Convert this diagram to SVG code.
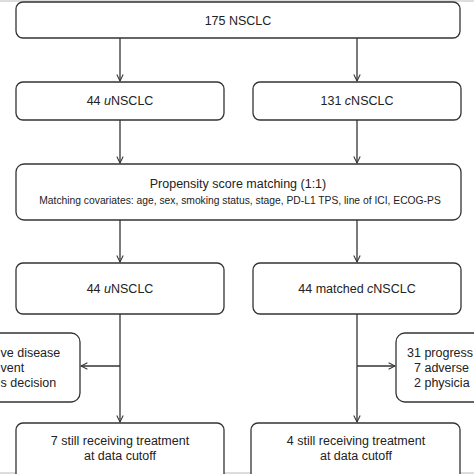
<svg xmlns="http://www.w3.org/2000/svg" width="474" height="474" viewBox="0 0 474 474">
<style>
.box{fill:#fff;stroke:#333;stroke-width:1.3}
.t{font-family:"Liberation Sans",Arial,sans-serif;font-size:12.5px;fill:#222;text-anchor:middle}
.s{font-size:10.3px}
.st{text-anchor:start}
.c{fill:none;stroke:#333;stroke-width:1.3}
</style>
<defs>
<marker id="ah" viewBox="0 0 10 10" refX="9" refY="5" markerWidth="8" markerHeight="8" markerUnits="userSpaceOnUse" orient="auto">
<path d="M1,1 L9,5 L1,9" fill="none" stroke="#333" stroke-width="1.3"/>
</marker>
</defs>
<rect width="474" height="474" fill="#fff"/>
<rect width="474" height="2" fill="#ddd"/>
<rect y="472" width="474" height="2" fill="#ddd"/>
<g id="connectors">
<line class="c" x1="120" y1="38" x2="120" y2="81" marker-end="url(#ah)"/>
<line class="c" x1="357" y1="38" x2="357" y2="81" marker-end="url(#ah)"/>
<line class="c" x1="120" y1="120" x2="120" y2="163" marker-end="url(#ah)"/>
<line class="c" x1="357" y1="120" x2="357" y2="163" marker-end="url(#ah)"/>
<line class="c" x1="120" y1="220" x2="120" y2="262" marker-end="url(#ah)"/>
<line class="c" x1="357" y1="220" x2="357" y2="262" marker-end="url(#ah)"/>
<line class="c" x1="120" y1="314" x2="120" y2="422" marker-end="url(#ah)"/>
<line class="c" x1="357" y1="314" x2="357" y2="422" marker-end="url(#ah)"/>
<line class="c" x1="120" y1="366" x2="81" y2="366" marker-end="url(#ah)"/>
<line class="c" x1="357" y1="366" x2="395" y2="366" marker-end="url(#ah)"/>
</g>
<g id="n_total">
<rect class="box" x="16" y="2" width="444" height="36" rx="7"/>
<text class="t" x="238" y="25">175 NSCLC</text>
</g>
<g id="n_u1">
<rect class="box" x="16" y="82" width="208" height="38" rx="7"/>
<text class="t" x="120" y="105">44 <tspan font-style="italic">u</tspan>NSCLC</text>
</g>
<g id="n_c1">
<rect class="box" x="253" y="82" width="208" height="38" rx="7"/>
<text class="t" x="357" y="105">131 <tspan font-style="italic">c</tspan>NSCLC</text>
</g>
<g id="n_psm">
<rect class="box" x="16" y="164" width="445" height="56" rx="8"/>
<text class="t" x="238" y="188">Propensity score matching (1:1)</text>
<text class="t s" x="240" y="204">Matching covariates: age, sex, smoking status, stage, PD-L1 TPS, line of ICI, ECOG-PS</text>
</g>
<g id="n_u2">
<rect class="box" x="16" y="263" width="208" height="51" rx="7"/>
<text class="t" x="120" y="293">44 <tspan font-style="italic">u</tspan>NSCLC</text>
</g>
<g id="n_c2">
<rect class="box" x="253" y="263" width="208" height="51" rx="7"/>
<text class="t" x="357" y="293">44 matched <tspan font-style="italic">c</tspan>NSCLC</text>
</g>
<g id="n_udisc">
<rect class="box" x="-60" y="333" width="140" height="69" rx="9"/>
<text class="t st" x="0.5" y="357">ve disease</text>
<text class="t st" x="0.5" y="372">vent</text>
<text class="t st" x="0.5" y="387">s decision</text>
</g>
<g id="n_cdisc">
<rect class="box" x="396" y="333" width="140" height="69" rx="9"/>
<text class="t st" x="407" y="357">31 progress</text>
<text class="t st" x="414" y="372">7 adverse</text>
<text class="t st" x="414" y="387">2 physicia</text>
</g>
<g id="n_u3">
<rect class="box" x="16" y="423" width="208" height="60" rx="7"/>
<text class="t" x="120" y="445">7 still receiving treatment</text>
<text class="t" x="120" y="460">at data cutoff</text>
</g>
<g id="n_c3">
<rect class="box" x="251" y="423" width="209" height="60" rx="7"/>
<text class="t" x="356" y="445">4 still receiving treatment</text>
<text class="t" x="356" y="460">at data cutoff</text>
</g>
</svg>
